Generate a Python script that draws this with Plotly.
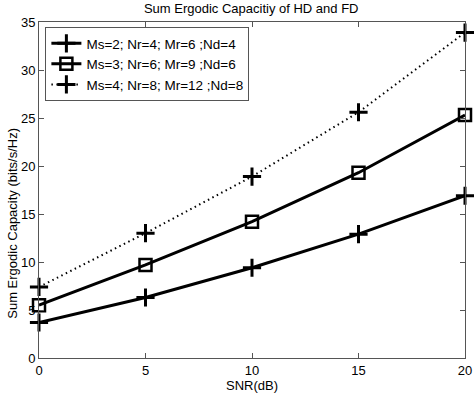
import plotly.graph_objects as go

snr = [0, 5, 10, 15, 20]
cap_ms2 = [3.7, 6.3, 9.4, 12.9, 16.9]
cap_ms3 = [5.5, 9.7, 14.2, 19.3, 25.3]
cap_ms4 = [7.4, 13.0, 18.9, 25.6, 33.9]
names = ["Ms=2; Nr=4; Mr=6 ;Nd=4", "Ms=3; Nr=6; Mr=9 ;Nd=6", "Ms=4; Nr=8; Mr=12 ;Nd=8"]
x_ticks = [0, 5, 10, 15, 20]
y_ticks = [0, 5, 10, 15, 20, 25, 30, 35]

font = "Liberation Sans, Arial, sans-serif"
fig = go.Figure()
fig.add_trace(go.Scatter(x=snr, y=cap_ms2, name=names[0], mode="lines+markers", cliponaxis=False,
                         line=dict(color="black", width=3),
                         marker=dict(symbol="cross-thin", size=13, line=dict(color="black", width=3))))
fig.add_trace(go.Scatter(x=snr, y=cap_ms3, name=names[1], mode="lines+markers", cliponaxis=False,
                         line=dict(color="black", width=3),
                         marker=dict(symbol="square-open", size=12, color="black", line=dict(width=2.5))))
fig.add_trace(go.Scatter(x=snr, y=cap_ms4, name=names[2], mode="lines+markers", cliponaxis=False,
                         line=dict(color="black", width=2, dash="1.5px,3.5px"),
                         marker=dict(symbol="cross-thin", size=13, line=dict(color="black", width=3))))

axis_common = dict(showline=True, linecolor="#555", linewidth=1, mirror="ticks",
                   ticks="inside", ticklen=5, tickcolor="#555", showgrid=False, zeroline=False,
                   automargin=False,
                   tickfont=dict(family=font, size=13, color="black"))
fig.update_layout(
    width=474, height=394,
    margin=dict(l=39, r=9, t=22, b=36),
    paper_bgcolor="white", plot_bgcolor="white",
    title=dict(text="Sum Ergodic Capacitiy of HD and FD", x=0.53, xanchor="center", y=0.99, yanchor="top",
               font=dict(family=font, size=13, color="black")),
    xaxis=dict(range=[0, 20], tickvals=x_ticks,
               title=dict(text="SNR(dB)", font=dict(family=font, size=13, color="black"), standoff=2),
               **axis_common),
    yaxis=dict(range=[0, 35], tickvals=y_ticks, **axis_common),
    legend=dict(x=0.015, y=0.985, xanchor="left", yanchor="top", bgcolor="white",
                bordercolor="#555", borderwidth=1, tracegroupgap=0,
                font=dict(family=font, size=13.5, color="black")),
    showlegend=True,
    annotations=[dict(text="Sum Ergodic Capacity (bits/s/Hz)", textangle=-90, xref="paper", yref="paper",
                      x=-0.063, y=0.40, xanchor="center", yanchor="middle", showarrow=False,
                      font=dict(family=font, size=13, color="black"))],
)
fig.write_html("out.html", config={"displayModeBar": False},
               post_script="document.body.style.margin='0';document.body.style.overflow='hidden';")
